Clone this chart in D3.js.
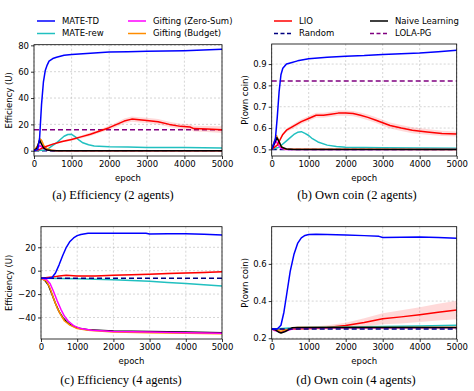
<!DOCTYPE html>
<html>
<head>
<meta charset="UTF-8">
<script src="https://d3js.org/d3.v7.min.js"></script>
<style>
  body { margin: 0; background: #fff; }
  svg { display: block; }
  .tick text { font-family: "DejaVu Sans", sans-serif; font-size: 8.5px; fill: #000; }
  .lab { font-family: "DejaVu Sans", sans-serif; font-size: 8.5px; }
  .cap { font-family: "Liberation Serif", serif; font-size: 12.5px; }
</style>
</head>
<body>
<svg id="chart" width="474" height="391"></svg>
<script>
// ---- data: [epoch, value] pairs ----
// (a) Efficiency, 2 agents
const a_mateTD = [[0,0],[100,1],[150,10],[200,35],[250,52],[300,61],[350,65],[400,68],[500,70],[600,71],[800,72.5],[1000,73],[1500,74],[2000,75],[2500,75.2],[3000,75.5],[3500,75.8],[4000,76],[4500,76.5],[5000,77]];
const a_mateRew = [[0,0],[300,0.5],[400,2],[500,4],[600,6],[700,8.5],[800,11],[900,12.3],[1000,12.5],[1100,10.5],[1200,8],[1300,6],[1450,4.5],[1600,3.6],[2000,3],[2500,2.8],[3000,2.5],[3500,2.5],[4000,2.5],[4500,2.2],[5000,2]];
const a_zeroSum = [[0,0],[100,2],[150,4],[200,3],[300,1],[400,0.3],[600,0],[5000,0]];
const a_budget = [[0,0],[100,4],[160,9],[200,8],[260,4],[350,1.5],[450,0.5],[600,0],[5000,0]];
const a_lio = [[0,0],[150,1],[300,3],[500,5],[750,7],[1000,8.5],[1250,10.5],[1500,12.5],[1750,15],[2000,17.5],[2200,20],[2400,22.5],[2600,24],[2800,23.5],[3000,23],[3300,22],[3600,20],[3900,18.5],[4150,18],[4250,16.8],[4600,16.5],[5000,16]];
const a_lioBand = [[0,0],[1000,1],[2000,1.5],[2500,2],[3000,2],[4000,2],[5000,2.5]];
const a_naive = [[0,0],[80,2],[150,8],[200,5],[260,2],[350,0.5],[500,0],[5000,0]];
const a_random = 0;
const a_lola = 16;

// (b) Own coin, 2 agents
const b_mateTD = [[0,0.5],[100,0.55],[150,0.65],[200,0.77],[250,0.85],[300,0.88],[400,0.9],[500,0.905],[700,0.915],[1000,0.925],[1500,0.932],[2000,0.937],[2500,0.94],[3000,0.945],[3500,0.948],[4000,0.952],[4500,0.958],[5000,0.965]];
const b_mateRew = [[0,0.5],[200,0.51],[300,0.525],[400,0.54],[500,0.555],[600,0.57],[700,0.58],[800,0.583],[900,0.575],[1000,0.565],[1100,0.55],[1250,0.535],[1500,0.52],[1750,0.513],[2000,0.51],[3000,0.508],[4000,0.506],[5000,0.505]];
const b_zeroSum = [[0,0.5],[60,0.52],[120,0.54],[180,0.52],[250,0.505],[350,0.5],[5000,0.5]];
const b_budget = [[0,0.5],[80,0.54],[130,0.565],[180,0.545],[250,0.515],[350,0.502],[5000,0.5]];
const b_lio = [[0,0.5],[150,0.52],[300,0.57],[400,0.59],[600,0.61],[800,0.63],[1000,0.645],[1200,0.66],[1400,0.66],[1600,0.665],[1800,0.67],[2000,0.67],[2200,0.668],[2400,0.66],[2600,0.65],[2800,0.638],[3000,0.625],[3200,0.612],[3500,0.6],[3800,0.59],[4200,0.582],[4600,0.575],[5000,0.572]];
const b_lioBand = [[0,0],[500,0.01],[1000,0.012],[2000,0.012],[3000,0.014],[4000,0.014],[5000,0.012]];
const b_naive = [[0,0.5],[80,0.53],[140,0.555],[200,0.535],[270,0.51],[400,0.502],[600,0.5],[5000,0.5]];
const b_random = 0.5;
const b_lola = 0.82;

// (c) Efficiency, 4 agents
const c_mateTD = [[0,-6.5],[200,-6.5],[300,-6],[400,-2],[500,5],[600,13],[700,20],[800,25],[900,28],[1000,30],[1100,31],[1300,32],[2000,32],[2900,32],[3000,31.3],[3500,31.5],[4000,31.5],[4500,31.2],[5000,30.5]];
const c_mateRew = [[0,-6.5],[1000,-7],[2000,-7.8],[2500,-8.3],[3000,-9],[3500,-10],[4000,-11],[4500,-12],[5000,-13]];
const c_zeroSum = [[0,-6.5],[150,-7.5],[250,-11],[350,-18],[450,-26],[550,-33],[650,-39],[750,-43],[900,-47],[1100,-49.5],[1400,-51],[2000,-52],[3000,-52.5],[4000,-53],[5000,-53.5]];
const c_budget = [[0,-6.5],[150,-9],[250,-15],[350,-24],[450,-32],[550,-38],[650,-43],[800,-46.5],[1000,-49.5],[1300,-51],[2000,-52.5],[3000,-53],[4000,-53.5],[5000,-54]];
const c_lio = [[0,-6.5],[300,-5.5],[500,-4.5],[700,-4],[1000,-4.5],[1500,-4.5],[2000,-4],[2500,-3.5],[3000,-3],[3500,-2.5],[4000,-2],[4500,-1.5],[5000,-1]];
const c_lioBand = [[0,0],[1000,0.5],[3000,0.7],[5000,0.8]];
const c_naive = [[0,-6.5],[100,-8],[200,-12],[300,-20],[400,-28],[500,-35],[600,-40],[700,-43.5],[800,-46],[1000,-49],[1300,-50.5],[2000,-51.5],[3000,-52],[4000,-52.5],[5000,-53]];
const c_random = -6.5;

// (d) Own coin, 4 agents
const d_mateTD = [[0,0.25],[150,0.25],[250,0.27],[330,0.34],[400,0.43],[500,0.56],[600,0.65],[700,0.71],[800,0.74],[900,0.753],[1000,0.758],[1200,0.76],[1500,0.758],[2000,0.755],[2500,0.752],[2900,0.748],[3000,0.742],[3500,0.743],[4000,0.744],[4500,0.742],[5000,0.738]];
const d_mateRew = [[0,0.25],[500,0.255],[1000,0.258],[2000,0.26],[3000,0.263],[4000,0.266],[5000,0.27]];
const d_zeroSum = [[0,0.25],[100,0.24],[250,0.235],[400,0.24],[550,0.25],[700,0.255],[5000,0.256]];
const d_budget = [[0,0.25],[100,0.245],[250,0.238],[400,0.245],[550,0.255],[700,0.258],[5000,0.258]];
const d_lio = [[0,0.25],[500,0.25],[1000,0.252],[1500,0.258],[2000,0.268],[2500,0.285],[3000,0.305],[3500,0.315],[4000,0.327],[4500,0.34],[5000,0.352]];
const d_lioBand = [[0,0],[1000,0.008],[2000,0.015],[3000,0.03],[4000,0.04],[5000,0.05]];
const d_naive = [[0,0.25],[100,0.245],[200,0.232],[250,0.228],[350,0.235],[450,0.245],[550,0.256],[700,0.258],[5000,0.258]];
const d_random = 0.25;

const xTicks = [0, 1000, 2000, 3000, 4000, 5000];

const colors = {
  mateTD: "#0000ff", mateRew: "#21c0c0", zeroSum: "#ff00ff", budget: "#ff8c00",
  lio: "#ff0000", random: "#000080", naive: "#000000", lola: "#800080"
};

const svg = d3.select("#chart");

const panels = [
  { left: 34, right: 222, top: 44.7, bottom: 156, ydom: [-4, 80.5], yticks: [0,20,40,60,80], fmt: d3.format("d"),
    ylabel: "Efficiency (U)", ylx: 9, caption: "(a) Efficiency (2 agents)", capx: 113, capy: 199,
    series: { random: a_random, lola: a_lola, mateRew: a_mateRew, zeroSum: a_zeroSum, budget: a_budget, lio: a_lio, lioBand: a_lioBand, naive: a_naive, mateTD: a_mateTD } },
  { left: 271.7, right: 456.7, top: 44, bottom: 156, ydom: [0.469, 0.994], yticks: [0.5,0.6,0.7,0.8,0.9], fmt: d3.format(".1f"),
    ylabel: "P(own coin)", ylx: 245, caption: "(b) Own coin (2 agents)", capx: 357, capy: 199,
    series: { random: b_random, lola: b_lola, mateRew: b_mateRew, zeroSum: b_zeroSum, budget: b_budget, lio: b_lio, lioBand: b_lioBand, naive: b_naive, mateTD: b_mateTD } },
  { left: 41, right: 222, top: 226.7, bottom: 339, ydom: [-58.4, 37.6], yticks: [-40,-20,0,20], fmt: d => d3.format("d")(d).replace("-", "\u2212"),
    ylabel: "Efficiency (U)", ylx: 9, caption: "(c) Efficiency (4 agents)", capx: 121, capy: 384,
    series: { mateRew: c_mateRew, lio: c_lio, lioBand: c_lioBand, naive: c_naive, budget: c_budget, zeroSum: c_zeroSum, random: c_random, mateTD: c_mateTD } },
  { left: 271.7, right: 456.7, top: 226.7, bottom: 339, ydom: [0.196, 0.80], yticks: [0.2,0.4,0.6], fmt: d3.format(".1f"),
    ylabel: "P(own coin)", ylx: 245, caption: "(d) Own coin (4 agents)", capx: 356, capy: 384,
    series: { lio: d_lio, lioBand: d_lioBand, mateRew: d_mateRew, zeroSum: d_zeroSum, budget: d_budget, naive: d_naive, random: d_random, mateTD: d_mateTD } }
];

panels.forEach((p, i) => {
  const x = d3.scaleLinear().domain([0, 5000]).range([p.left, p.right]);
  const y = d3.scaleLinear().domain(p.ydom).range([p.bottom, p.top]);
  const g = svg.append("g");
  const clipId = "clip" + i;
  g.append("clipPath").attr("id", clipId).append("rect")
    .attr("x", p.left).attr("y", p.top).attr("width", p.right - p.left).attr("height", p.bottom - p.top);

  // grid
  g.append("g").selectAll("line.gx").data(xTicks).join("line")
    .attr("x1", d => x(d)).attr("x2", d => x(d)).attr("y1", p.top).attr("y2", p.bottom)
    .attr("stroke", "#b8b8b8").attr("stroke-width", 0.6).attr("stroke-dasharray", "2,2");
  g.append("g").selectAll("line.gy").data(p.yticks).join("line")
    .attr("x1", p.left).attr("x2", p.right).attr("y1", d => y(d)).attr("y2", d => y(d))
    .attr("stroke", "#b8b8b8").attr("stroke-width", 0.6).attr("stroke-dasharray", "2,2");

  const plot = g.append("g").attr("clip-path", `url(#${clipId})`);
  const line = d3.line().x(d => x(d[0])).y(d => y(d[1]));
  const s = p.series;

  // LIO band
  const bandAt = ep => {
    const bx = s.lioBand.map(d => d[0]), by = s.lioBand.map(d => d[1]);
    return d3.scaleLinear().domain(bx).range(by)(ep);
  };
  const area = d3.area().x(d => x(d[0])).y0(d => y(d[1] - bandAt(d[0]))).y1(d => y(d[1] + bandAt(d[0])));

  Object.keys(s).forEach(k => {
    if (k === "lioBand") return;
    const v = s[k];
    if (typeof v === "number") {
      plot.append("line").attr("x1", p.left).attr("x2", p.right).attr("y1", y(v)).attr("y2", y(v))
        .attr("stroke", colors[k]).attr("stroke-width", 1.5).attr("stroke-dasharray", "5,3");
      return;
    }
    if (k === "lio") {
      plot.append("path").datum(v).attr("d", area).attr("fill", "#ff0000").attr("opacity", 0.15);
    }
    plot.append("path").datum(v).attr("d", line)
      .attr("fill", "none").attr("stroke", colors[k]).attr("stroke-width", 1.5).attr("stroke-linejoin", "round");
  });

  // frame
  g.append("rect").attr("x", p.left).attr("y", p.top).attr("width", p.right - p.left).attr("height", p.bottom - p.top)
    .attr("fill", "none").attr("stroke", "#000").attr("stroke-width", 0.8);

  const xa = g.append("g").attr("transform", `translate(0,${p.bottom})`)
    .call(d3.axisBottom(x).tickValues(xTicks).tickSize(3).tickPadding(2).tickFormat(d3.format("d")));
  const ya = g.append("g").attr("transform", `translate(${p.left},0)`)
    .call(d3.axisLeft(y).tickValues(p.yticks).tickSize(3).tickPadding(2).tickFormat(p.fmt));
  [xa, ya].forEach(a => { a.select(".domain").remove(); a.selectAll(".tick line").attr("stroke-width", 0.8); });

  g.append("text").attr("class", "lab").attr("x", (p.left + p.right) / 2).attr("y", p.bottom + 24.5)
    .attr("text-anchor", "middle").text("epoch");
  g.append("text").attr("class", "lab").attr("transform", `translate(${p.ylx},${(p.top + p.bottom) / 2}) rotate(-90)`)
    .attr("text-anchor", "middle").attr("dy", "0.35em").text(p.ylabel);
  g.append("text").attr("class", "cap").attr("x", p.capx).attr("y", p.capy)
    .attr("text-anchor", "middle").text(p.caption);
});

// legends
const legendItems = [
  { name: "MATE-TD", key: "mateTD", x: 37, y: 21, dash: false },
  { name: "MATE-rew", key: "mateRew", x: 37, y: 33.5, dash: false },
  { name: "Gifting (Zero-Sum)", key: "zeroSum", x: 128, y: 21, dash: false },
  { name: "Gifting (Budget)", key: "budget", x: 128, y: 33.5, dash: false },
  { name: "LIO", key: "lio", x: 274, y: 21, dash: false },
  { name: "Random", key: "random", x: 274, y: 33.5, dash: true },
  { name: "Naive Learning", key: "naive", x: 370, y: 21, dash: false },
  { name: "LOLA-PG", key: "lola", x: 370, y: 33.5, dash: true }
];
const lg = svg.append("g").selectAll("g").data(legendItems).join("g");
lg.append("line").attr("x1", d => d.x).attr("x2", d => d.x + 18).attr("y1", d => d.y).attr("y2", d => d.y)
  .attr("stroke", d => colors[d.key]).attr("stroke-width", 1.5).attr("stroke-dasharray", d => d.dash ? "4,2.5" : null);
lg.append("text").attr("class", "lab").attr("x", d => d.x + 25).attr("y", d => d.y).attr("dy", "0.35em").text(d => d.name);
</script>
</body>
</html>
